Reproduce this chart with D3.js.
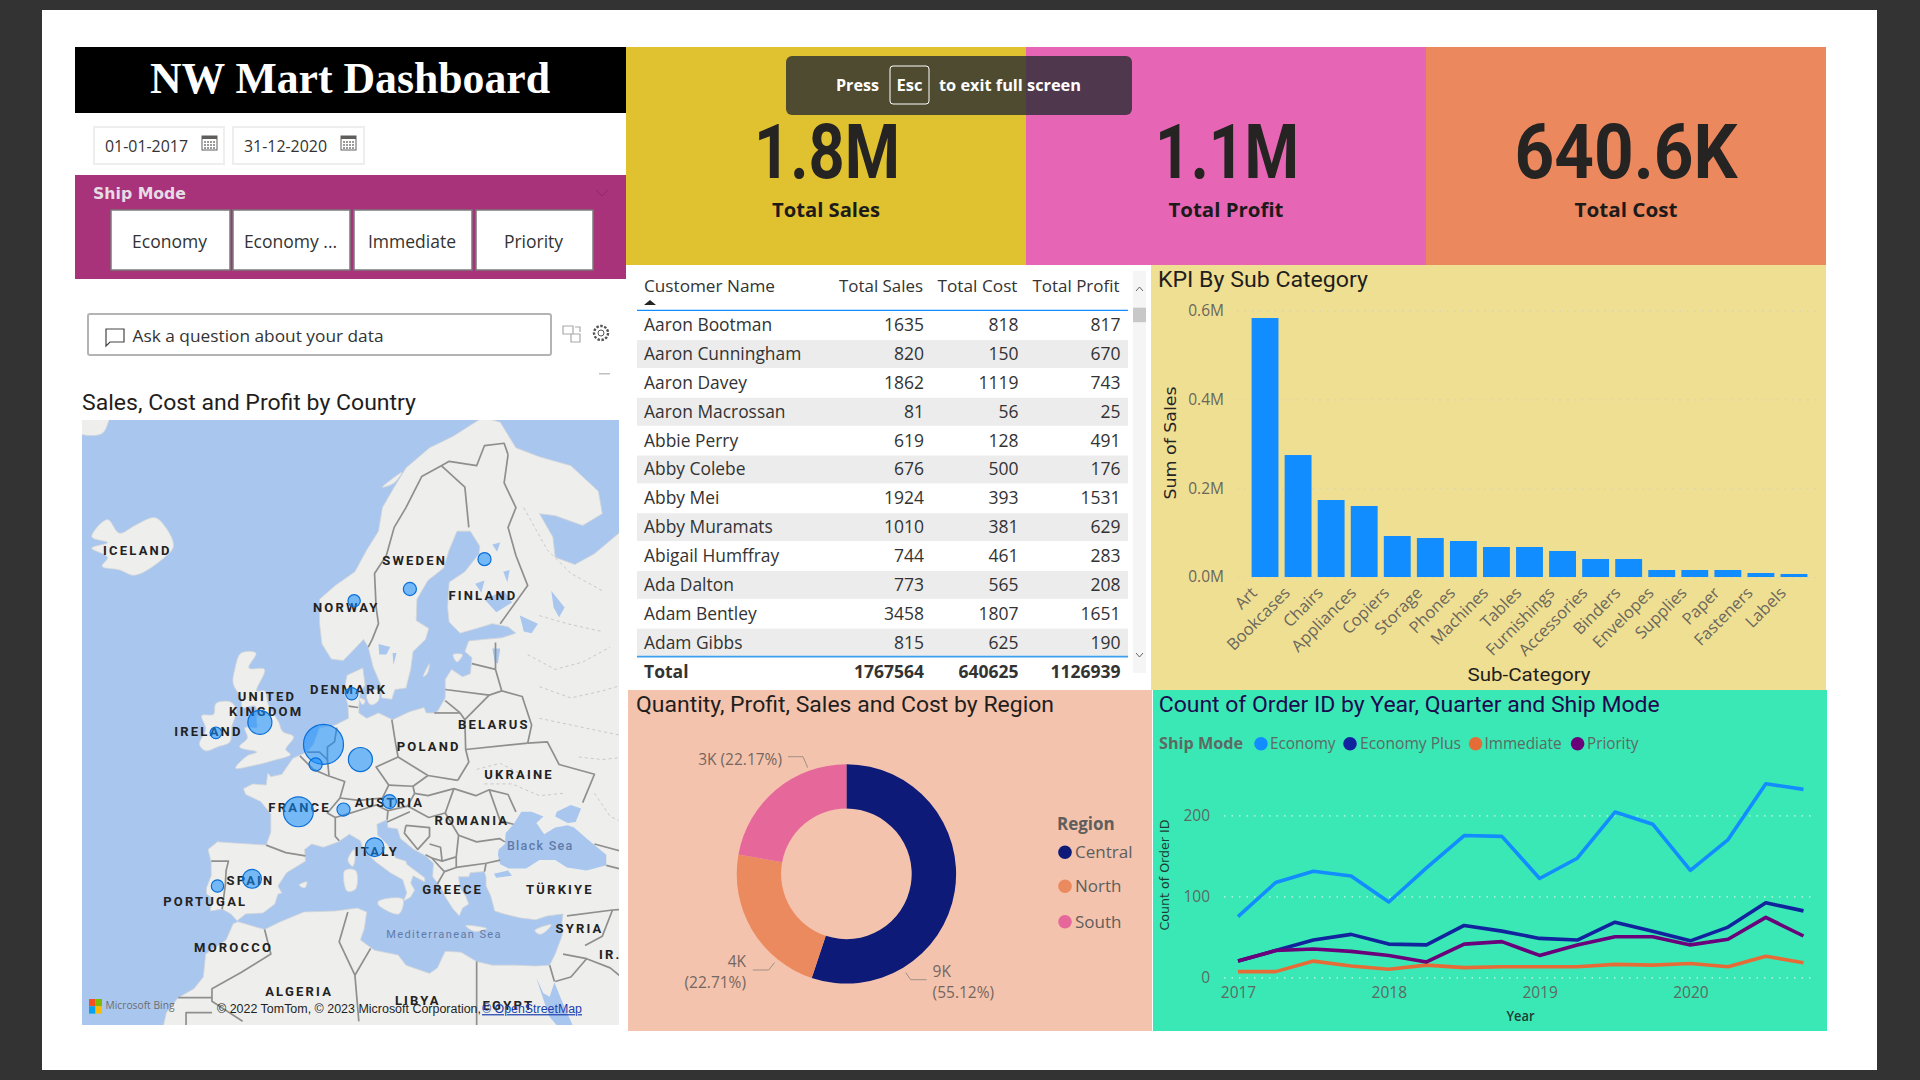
<!DOCTYPE html>
<html><head><meta charset="utf-8"><title>NW Mart Dashboard</title>
<script src="https://cdn.jsdelivr.net/npm/d3@7/dist/d3.min.js"></script>
<style>html,body{margin:0;padding:0;background:#333;overflow:hidden}svg{display:block}</style>
</head><body><svg id="c" width="1920" height="1080"></svg>
<script>
// ---------- data ----------
const shipModes = ["Economy","Economy ...","Immediate","Priority"];
const kpiLabels = ["Total Sales","Total Profit","Total Cost"];
const kpiValues = [1767564,1126939,640625];
const customers = ["Aaron Bootman","Aaron Cunningham","Aaron Davey","Aaron Macrossan","Abbie Perry","Abby Colebe","Abby Mei","Abby Muramats","Abigail Humffray","Ada Dalton","Adam Bentley","Adam Gibbs"];
const custSales = [1635,820,1862,81,619,676,1924,1010,744,773,3458,815];
const custCost = [818,150,1119,56,128,500,393,381,461,565,1807,625];
const custProfit = [817,670,743,25,491,176,1531,629,283,208,1651,190];
const tableTotals = [1767564,640625,1126939];
const subCategories = ["Art","Bookcases","Chairs","Appliances","Copiers","Storage","Phones","Machines","Tables","Furnishings","Accessories","Binders","Envelopes","Supplies","Paper","Fasteners","Labels"];
const subSales = [583500,274800,173500,160000,92400,87900,81100,67600,67600,58600,40500,40500,15800,15800,15800,9000,6800];
const regions = ["Central","North","South"];
const regionValues = [9000,3708,3620];
const regionShare = ["55.12%","22.71%","22.17%"];
const regionShort = ["9K","4K","3K"];
const quarters = [2017,2017.25,2017.5,2017.75,2018,2018.25,2018.5,2018.75,2019,2019.25,2019.5,2019.75,2020,2020.25,2020.5,2020.75];
const ordersEconomy = [75,117,131,125,93,135,175,174,122,147,204,189,132,170,239,232];
const ordersEconomyPlus = [20,33,46,53,41,40,64,57,48,46,68,57,45,62,92,82];
const ordersImmediate = [7,7,20,14,10,15,12,13,13,13,16,15,17,13,26,18];
const ordersPriority = [20,33,35,32,27,19,41,44,27,40,50,50,40,47,74,51];
const countries = ["Netherlands","Belgium","United Kingdom","Germany","France","Ireland","Denmark","Norway","Sweden","Finland","Austria","Switzerland","Italy","Spain","Portugal"];
const countryLon = [5.5,4.5,-2.6,10.2,2.3,-8.2,9.1,9.4,16.5,26,13.9,8.05,12,-3.6,-8];
const countryLat = [52,50.4,53.7,50.8,46.4,52.9,55.8,61.9,62.6,64.3,47.3,46.6,43.2,40.2,39.5];
const countrySales = [485000,52000,175000,175000,270000,41000,46000,46000,52000,52000,58000,52000,108000,108000,46000];
// basemap outlines, [lon,lat]
const mainland = [[25.8,71.1],[22,70.3],[19,69.8],[16,68.9],[14.5,68],[13,67],[12.5,65.8],[11,64.8],[9.5,63.6],[7,62.8],[5,62],[5,60.5],[5.3,59.2],[6.5,58.2],[8,58.1],[9.5,58.9],[10.6,59.5],[11.2,59],[11.8,57.7],[12.8,56.4],[12.9,55.5],[14.2,55.4],[14.6,56.1],[16,56.2],[16.6,57.5],[16.9,58.7],[18.5,59.5],[18.9,60.2],[17.3,60.7],[17.4,62],[18.8,63.1],[20.8,63.8],[21.5,64.8],[22.5,65.8],[24.2,65.8],[25.4,65],[25.3,64.6],[23.5,63.6],[21.5,63],[21.3,61.5],[21.5,60.6],[22.9,59.9],[25,60.2],[27,60.5],[29,60.3],[30,59.9],[28.2,59.6],[26,59.5],[24,59.4],[23.5,58.7],[24.4,58.3],[24.2,57.2],[23.2,57],[21.8,57.5],[21,56.8],[21,55.5],[20,54.5],[19.5,54.4],[18.6,54.4],[18.3,54.8],[16.5,54.5],[14.3,53.9],[12.5,54.4],[11,54],[10,54.4],[10,54.9],[10.2,56],[10.8,56.4],[10.5,57.6],[8.5,57.1],[8.1,56],[8.6,55],[8.7,54],[7,53.5],[5,53.3],[4.2,52],[3.4,51.4],[1.6,50.9],[0.2,49.6],[-1.2,49.4],[-1.6,49.7],[-1.8,48.7],[-3.5,48.8],[-4.7,48.4],[-4.4,47.9],[-2.5,47.3],[-1.2,46.2],[-1.2,44.6],[-1.8,43.4],[-3.8,43.5],[-6,43.6],[-8,43.7],[-9.2,43],[-8.8,41.8],[-8.8,40.5],[-9.4,39.3],[-9.4,38.7],[-8.8,38.4],[-8.9,37],[-7.4,37.2],[-6.3,36.7],[-5.5,36],[-4.4,36.7],[-2.2,36.8],[-0.7,37.7],[-0.3,38.7],[0.2,38.8],[-0.3,39.5],[0.8,40.8],[3.2,41.9],[3.1,43],[4,43.5],[5.5,43.2],[7.4,43.7],[8.8,44.4],[10.2,43.8],[10.6,42.9],[12.2,41.8],[14,40.8],[15.6,40.1],[16.1,38.8],[15.7,38],[16.6,38.4],[17.1,39.1],[16.6,39.8],[16.9,40.5],[18.4,39.9],[18.4,40.3],[16.1,41.6],[16,41.9],[14.7,42.2],[13.6,43.5],[12.4,44.3],[12.3,45.3],[13.6,45.7],[13.7,45],[14.9,44.9],[15.3,44],[17,43],[18.5,42.4],[19.5,41.7],[19.4,40.4],[20.5,39.3],[21.1,38.3],[22,37.2],[22.8,36.5],[23.2,37.3],[24,37.7],[23.6,38.5],[22.9,39.3],[22.7,40.4],[24,40.4],[24.2,40.8],[26,40.9],[26.2,40.3],[26.2,39.5],[26.8,38.5],[27.3,37],[28.5,36.7],[30.5,36.3],[32.5,36.1],[34,36.5],[36,36.7],[35.8,35.5],[35.9,34.5],[35,32.5],[34.3,31.3],[32.5,31.2],[30,31.3],[27,31.3],[25,31.7],[23,32.7],[21,32.8],[20,31],[19,30.4],[16,31.3],[15,32.4],[12,32.9],[10.2,34],[10.7,35.2],[11,36.9],[9.8,37.3],[7,37],[3,36.9],[0,35.9],[-2,35.1],[-5.4,35.9],[-6,35.7],[-6.9,34],[-9.5,32.5],[-9.8,30],[-11,28.7],[-13,27.7],[-14.5,26],[-15,24],[46,24],[46,66.5],[44,68.3],[43.3,66.4],[44,66],[40,64.6],[37.5,64],[35,64.4],[34.7,65.5],[33,66.7],[35,66.6],[38.5,66.1],[41,66.7],[40.5,67.8],[37,69],[33,69.4],[30,69.8],[28,70.9]];
const islands = [
 [[-5.7,50.1],[-3.5,50.3],[-1,50.7],[1.3,51.2],[0.7,51.6],[1.7,52.6],[0.3,53],[-0.2,53.7],[-1.5,55],[-2,56],[-3,56],[-2,57.5],[-4,57.6],[-3.1,58.6],[-5,58.6],[-5.8,57.5],[-6,56.5],[-5,55.5],[-4.8,54.8],[-3.2,54.9],[-3,53.7],[-3,53.3],[-4.5,53.3],[-4.2,52.5],[-5.2,51.8],[-3,51.4],[-4.2,51.1]],
 [[-6.2,53.3],[-5.6,54.6],[-6.3,55.2],[-8.2,55.1],[-8.5,54.3],[-10,54.2],[-9.5,53.2],[-10.3,52],[-9.5,51.5],[-8,51.8],[-6.4,52.2]],
 [[-24,65.5],[-22,66.4],[-20.5,65.7],[-18.5,66.1],[-16,66.5],[-14.6,66],[-13.6,65],[-15,64.3],[-18.5,63.4],[-20.5,63.7],[-22.7,63.9],[-22,64.4],[-24,64.9],[-22,65.2]],
 [[9.4,43],[9.5,42],[9.2,41.4],[8.6,42]],[[8.2,41],[9.6,41],[9.6,39.2],[8.5,39]],[[12.5,38],[15.6,38.2],[15.1,36.7],[12.5,37.6]],
 [[23.6,35.5],[26.3,35.2],[24.7,34.9]],[[32.4,35],[34.5,35.6],[33.8,34.9],[33,34.6]],[[2.4,39.6],[3.4,39.9],[3.1,39.3]],
 [[18.2,57],[19,57.9],[18.7,57.2]],[[11,55.7],[12.5,56.1],[12.5,55.3],[11.5,55]],[[10,55.5],[10.8,55.3],[10.5,55]],[[22,58.5],[23.2,58.5],[22.5,58]],
 [[13,68],[15.5,68.7],[14.5,68.2]],[[-26,71.5],[-21.8,71.5],[-22,70.8],[-22.8,70.4],[-26,70.5]]
];
const inlandWaters = [
 [[27.7,42.5],[28,41.6],[29.1,41.2],[31.3,41.2],[33,42],[35,42],[36.5,41.3],[39,41],[41.5,41.5],[41.5,42.5],[39,44],[37.4,45],[36.6,45.2],[35,45],[33.6,44.4],[32.6,45.4],[33.5,46],[32,46.4],[30.7,46.4],[29.7,45.3],[28.7,44.5],[28.6,43.5],[27.8,43]],
 [[35,46],[36.6,45.4],[37.6,45.5],[38.3,46.7],[37,47],[35.2,46.4]],
 [[27.2,40.7],[29,41],[29.5,40.5],[27.5,40.3]],
 [[32.6,29.9],[33.5,27.5],[34.3,25.5],[35.7,24],[37.5,24],[36,27],[34.9,29.4],[34.3,27.8],[33.5,28.2]],
 [[30.5,61],[32.8,60.5],[32,59.9],[31,60]],[[34.5,62.5],[36.2,61.5],[35.5,60.9],[34.8,61.5]],[[12.5,59.2],[14,59],[13.5,58.5],[12.6,58.5]],[[27,58.9],[28,58.9],[27.7,57.9],[27.3,58]],[[26,62],[28.5,62.5],[29.5,61.8],[27.5,61.2]],
 [[14.3,58.6],[14.8,58.6],[14.4,57.8]],[[27,65.1],[28,65.2],[27.6,64.7]],[[24.8,62.9],[26,63.1],[25.6,62.4]],[[28.4,63.6],[29.2,63.7],[28.9,63]]
];
const borders = [
 [[-1.8,43.4],[0.7,42.7],[3.2,42.4]],[[-8.8,41.9],[-6.6,41.9],[-6.9,41],[-7,39.6],[-7.4,37.2]],
 [[2.5,51.1],[4.2,50],[6,49.5],[8.2,49],[7.6,47.6],[6,46.3],[7,45.9],[7,44.2],[7.5,43.8]],
 [[3.4,51.4],[5,51.4],[6,50.8]],[[7.2,53.3],[6.9,52.2],[6,51.8],[6,50.8],[6.2,49.5]],[[8.7,54.9],[9.9,54.8]],
 [[14.2,53.9],[14.7,52],[15,51],[12.2,50.2],[13.8,48.7],[13,47.6],[10,47.4],[7.6,47.6]],
 [[7,45.9],[8.5,46.2],[10.4,46.6],[12.2,47],[13.7,46.5],[13.6,45.7]],[[13.8,48.7],[16.9,48.6],[17.1,48],[16.2,46.9],[13.7,46.5]],
 [[15,51],[18.8,49.5],[22.6,49.1]],[[16.9,48.6],[18.8,49.5]],[[17.1,48],[18.8,47.8],[22.1,48.4]],[[22.1,48.4],[21,46.3],[18.9,45.9],[16.2,46.9]],
 [[13.6,45.5],[16.5,46.4]],[[16,45.2],[19,45],[19,44.2],[17.5,43],[15.8,44.5],[16,45.2]],
 [[21,46.3],[22.7,44.3],[22.4,42.3],[20.6,41.9],[19.3,42.2],[18.5,42.5]],[[19,43.5],[20.4,43.2],[20.6,41.9]],[[19.3,42.2],[20.5,41.2],[20.9,40.9]],[[22.7,44.3],[25,43.7],[27.9,44],[28.6,43.7]],
 [[22.1,48.4],[24.9,47.8],[26.6,48.3],[28,45.6],[29.7,45.3]],[[26.6,48.3],[29,47.9],[30,46.4]],
 [[22.4,41.3],[26.2,41.7],[28,42]],[[20,39.7],[20.9,40.9],[22.4,41.3],[22.4,42.3]],[[26.2,41.7],[26,40.9]],
 [[22.6,49.1],[24,50.6],[23.6,51.6],[23.5,53.9],[22.9,54.4]],[[19.6,54.4],[22.9,54.4]],[[21,55.3],[22.9,54.4]],[[23.5,53.9],[26.6,55.7]],
 [[21,56.1],[26.6,55.7],[28.2,56]],[[24.4,57.9],[27.4,57.5]],[[27.4,59.3],[27.4,57.5],[28.2,56],[30.8,55.6],[32,53.5],[31.5,52.1]],
 [[23.6,51.6],[31.5,52.1]],[[31.5,52.1],[34,52.2],[35.5,50.4],[40,49.6],[38.5,47.2]],
 [[36.5,36.5],[42.3,37.1],[44.8,37.2]],[[42.3,37.1],[41,34.4],[38.8,33.4]],[[36,32.5],[39,32],[37,30],[35,29.5]],
 [[25,31.7],[25,22]],[[34.3,31.3],[34.9,29.5]],[[11.5,33.1],[9.5,30.2],[10,25]],[[8.6,36.9],[7.5,33.8],[9.5,30.2]],
 [[-2,35.1],[-1.2,32.5],[-5,30.5],[-8.7,28.7],[-8.7,27.3],[-4.8,25]],[[-8.7,27.7],[-13,27.7]],[[-8.7,26],[-12,26],[-12,24]],
 [[39,32],[42,31],[44.8,29]],[[44.8,37.2],[45.5,34]],[[40,43.5],[45,42.5]],[[41.5,41.5],[43.5,41.1],[44.8,39.7]],
 [[11.2,59],[11.7,59.5],[12.5,60.5],[12.2,61.5],[12,63.5],[13.5,64.5],[14.5,66],[16,67],[18,68.5],[20.5,69]],
 [[20.5,69],[23.5,68],[24,66]],[[20.5,69],[21.5,69.2],[25,69],[26,69.9],[28.5,70],[29,69.5]],[[29,69.5],[28.5,68.2],[30,67],[29,66],[30,64.5],[31.5,62.8],[28,60.5]]
];
const dashedBorders = [
 [[31,67],[34,64.8],[37,63.5],[41,62.5]],[[33,61],[36.5,60.5],[41,60]],[[31.5,58.5],[35,57.5],[38.5,58],[42,59]],[[33,56.3],[37,55.5],[41,56],[44,56.5]],
 [[33,54],[37,53.5],[41,53],[45,52.5]],[[38,51],[41,50.8],[44,51]],[[25,50],[28,50.5],[31,49.5],[34,49.5]],[[26,48.8],[29.5,48.8],[33,47.8],[36,48]],[[40,48],[42,46],[45,45]]
];
const placeNames = ["ICELAND","SWEDEN","FINLAND","NORWAY","UNITED","KINGDOM","DENMARK","IRELAND","BELARUS","POLAND","UKRAINE","FRANCE","AUSTRIA","ROMANIA","ITALY","SPAIN","GREECE","TÜRKIYE","PORTUGAL","SYRIA","MOROCCO","IR.","ALGERIA","LIBYA","EGYPT"];
const placeLon = [-18.2,17.1,25.8,8.4,-1.7,-1.8,8.7,-9.15,27.2,18.9,30.4,2.45,13.9,24.4,12.3,-3.8,21.95,35.6,-9.55,38.1,-5.95,42,2.4,17.5,29.05];
const placeLat = [64.76,64.2,62.2,61.5,55.6,54.5,56.1,53,53.5,51.8,49.6,46.8,47.2,45.6,42.8,40,39.1,39.1,38,35.2,33.2,32.4,28.4,27.4,26.8];

// ---------- helpers ----------
const svg = d3.select("#c");
const DIN = "Roboto, sans-serif", UI = "'Open Sans', sans-serif";
function rect(x,y,w,h,f,p=svg){return p.append("rect").attr("x",x).attr("y",y).attr("width",w).attr("height",h).attr("fill",f);}
function text(s,x,y,o={},p=svg){const t=p.append("text").attr("x",x).attr("y",y).text(s)
  .attr("font-family",o.font||UI).attr("font-size",o.size||16).attr("font-weight",o.weight||400)
  .attr("fill",o.fill||"#252423").attr("text-anchor",o.anchor||"start").attr("dominant-baseline",o.base||"auto");
  if(o.ls)t.attr("letter-spacing",o.ls);
  if(o.fit)t.attr("textLength",o.fit).attr("lengthAdjust","spacingAndGlyphs");
  return t;}
const fmtKpi = v => v>=1e6 ? d3.format(".1f")(v/1e6)+"M" : d3.format(".1f")(v/1e3)+"K";

// page
rect(0,0,1920,1080,"#333333");
rect(42,10,1835,1060,"#ffffff");

// header
rect(75,47,551,66,"#000");
text("NW Mart Dashboard",350,93,{font:"'Liberation Serif',serif",size:44,weight:700,fill:"#fff",anchor:"middle",fit:400});

// date boxes
function calendar(x,y){const g=svg.append("g").attr("transform",`translate(${x},${y})`);
  g.append("rect").attr("width",15).attr("height",14).attr("fill","#fff").attr("stroke","#605e5c");
  g.append("rect").attr("width",15).attr("height",3).attr("fill","#605e5c");
  for(let r=0;r<3;r++)for(let c=0;c<4;c++)g.append("rect").attr("x",2+c*3).attr("y",5+r*3).attr("width",2).attr("height",2).attr("fill","#9a9a9a");}
[["01-01-2017",94],["31-12-2020",233]].forEach(([d,x])=>{
  rect(x,127,x==94?130:131,37,"#fff").attr("stroke","#eeeeee").attr("stroke-width",2);
  text(d,x+11,148,{size:15.5,base:"middle",fill:"#333",fit:83});
  calendar(x+108,136);
});

// ship mode slicer
rect(75,175,551,104,"#a8337a");
text("Ship Mode",93,194,{font:"'DejaVu Sans',sans-serif",size:15,weight:700,fill:"#e6dce6",base:"middle",fit:93});
svg.append("path").attr("d","M596 190l6 6 6-6").attr("fill","none").attr("stroke","#8f2a68");
const btnX=[111,233,354,476], btnW=[119,117,118,117];
shipModes.forEach((m,i)=>{
  rect(btnX[i],210,btnW[i],60,"#fff").attr("stroke","#7a7a7a").attr("stroke-width",1.5);
  text(m,btnX[i]+btnW[i]/2-1,243,{size:17.5,anchor:"middle",base:"middle",fill:"#333"});
});

// Q&A
rect(88,314,463,41,"#fff").attr("stroke","#b4b4b4").attr("stroke-width",2).attr("rx",2);
svg.append("path").attr("d","M106 329h18v13h-14l-4 4z").attr("fill","none").attr("stroke","#444").attr("stroke-width",1.2);
text("Ask a question about your data",132.5,337,{size:17,base:"middle",fill:"#333",fit:251});
svg.append("path").attr("d","M563 326h10v8h-10zM571 334h9v8h-9zM575 327h5v5").attr("fill","none").attr("stroke","#a8a8a8").attr("stroke-width",1.2);
svg.append("circle").attr("cx",601).attr("cy",333).attr("r",7).attr("fill","none").attr("stroke","#555").attr("stroke-width",2.4).attr("stroke-dasharray","2.5 1.5");
svg.append("circle").attr("cx",601).attr("cy",333).attr("r",3).attr("fill","none").attr("stroke","#555");
rect(599,373,11,1.5,"#c0c0c0");

// KPI cards
const kpiX=[626,1026,1426], kpiFill=["#e0c230","#e666b5","#ec885d"], kpiFitV=[146,144,223], kpiFitL=[108,115,103], kpiOff=[201,201,200];
kpiLabels.forEach((l,i)=>{
  rect(kpiX[i],47,400,218,kpiFill[i]);
  text(fmtKpi(kpiValues[i]),kpiX[i]+kpiOff[i],178,{font:DIN,size:76,weight:700,fill:"#252423",anchor:"middle",fit:kpiFitV[i]});
  text(l,kpiX[i]+200,211.5,{size:20,weight:700,anchor:"middle",base:"middle",fill:"#1c1b1a",fit:kpiFitL[i]});
});

// table
const colR=[924,1018.5,1120.5], headers=["Total Sales","Total Cost","Total Profit"];
const rowY=d3.scaleLinear().domain([0,12]).range([310.3,656.5]);
text("Customer Name",644,292,{size:17,fill:"#333",fit:131});
headers.forEach((h,i)=>text(h,colR[i]-1,292,{size:17,anchor:"end",fill:"#333",fit:[84,80,87][i]}));
svg.append("path").attr("d","M644 305l6-5 6 5z").attr("fill","#252423");
customers.forEach((c,i)=>{
  const y0=rowY(i), y1=rowY(i+1), ym=(y0+y1)/2;
  if(i%2==1) rect(637,y0+1,491,y1-y0-1,"#ececec");
  text(c,644,ym+1.8,{size:17.4,base:"middle",fill:"#333"});
  [custSales[i],custCost[i],custProfit[i]].forEach((v,j)=>text(v,colR[j],ym+1.8,{size:17.5,anchor:"end",base:"middle",fill:"#333"}));
});
svg.append("line").attr("x1",637).attr("x2",1128).attr("y1",310.3).attr("y2",310.3).attr("stroke","#118dff").attr("stroke-width",1.3);
svg.append("line").attr("x1",637).attr("x2",1128).attr("y1",656.6).attr("y2",656.6).attr("stroke","#3a9ff0").attr("stroke-width",1.6);
text("Total",644,673.3,{size:17.5,weight:700,base:"middle",fill:"#333"});
tableTotals.forEach((v,j)=>text(v,colR[j],673.3,{size:17.5,weight:700,anchor:"end",base:"middle",fill:"#333"}));
rect(1133,271,13,402,"#f5f5f5");
rect(1133,307.7,13,14.5,"#c8c8c8");
svg.append("path").attr("d","M1136 291l3.5-4 3.5 4M1136 653l3.5 4 3.5-4").attr("fill","none").attr("stroke","#666");

// map
const defs=svg.append("defs");
defs.append("clipPath").attr("id","mapClip").append("rect").attr("x",82).attr("y",420).attr("width",537).attr("height",605);
text("Sales, Cost and Profit by Country",82,410,{font:DIN,size:22.5,weight:400,fill:"#1f1e1d",fit:334});
const map=svg.append("g").attr("clip-path","url(#mapClip)");
rect(82,420,537,605,"#a9c6ee",map);
const proj=d3.geoMercator().scale(450).translate([280.3,1224.2]);
const poly=d3.line().x(d=>proj(d)[0]).y(d=>proj(d)[1]);
const ringC=d3.line().x(d=>proj(d)[0]).y(d=>proj(d)[1]).curve(d3.curveCatmullRomClosed.alpha(.5));
map.append("path").attr("d",poly(mainland)+"Z").attr("fill","#eeeeec").attr("stroke","#d3d6d8").attr("stroke-width",.8);
map.selectAll(".isl").data(islands).join("path").attr("d",d=>ringC(d)).attr("fill","#eeeeec").attr("stroke","#d3d6d8").attr("stroke-width",.8);
map.selectAll(".wat").data(inlandWaters).join("path").attr("d",d=>poly(d)+"Z").attr("fill","#a9c6ee");
map.selectAll(".das").data(dashedBorders).join("path").attr("d",d=>poly(d)).attr("fill","none").attr("stroke","#c9c9c7").attr("stroke-width",1).attr("stroke-dasharray","3 3");
map.selectAll(".bor").data(borders).join("path").attr("d",d=>poly(d))
  .attr("fill","none").attr("stroke","#8f8f8f").attr("stroke-width",1.7).attr("stroke-linejoin","round");
placeNames.forEach((n,i)=>{const p=proj([placeLon[i],placeLat[i]]);
  text(n,p[0],p[1]+1,{font:"Roboto,sans-serif",size:13,weight:700,fill:"#222",anchor:"middle",base:"middle",ls:2.2},map);});
let p0=proj([33.1,43.3]); text("Black Sea",p0[0],p0[1]+1,{font:"Roboto,sans-serif",size:12.5,weight:500,fill:"#5f7ba8",anchor:"middle",base:"middle",ls:1.3},map);
p0=proj([20.85,34.6]); text("Mediterranean Sea",p0[0],p0[1]+1,{font:"Roboto,sans-serif",size:11,fill:"#5f7ba8",anchor:"middle",base:"middle",ls:1.4},map);
const rScale=d3.scaleSqrt().domain([0,d3.max(countrySales)]).range([0,20]);
map.selectAll(".bub").data(countries).join("circle")
  .attr("cx",(d,i)=>proj([countryLon[i],countryLat[i]])[0]).attr("cy",(d,i)=>proj([countryLon[i],countryLat[i]])[1])
  .attr("r",(d,i)=>rScale(countrySales[i])).attr("fill","#118dff").attr("fill-opacity",.55).attr("stroke","#0a6fd8").attr("stroke-width",1.2);
[["#f25022",0,0],["#7fba00",1,0],["#00a4ef",0,1],["#ffb900",1,1]].forEach(([f,a,b])=>rect(89+a*6.5,999+b*7.3,6.5,7.3,f,map));
text("Microsoft Bing",105.5,1006,{font:"'Open Sans',sans-serif",size:10.5,fill:"#6e6e6e",base:"middle",fit:69},map);
text("© 2022 TomTom, © 2023 Microsoft Corporation, ",217,1010,{font:"'Liberation Sans',sans-serif",size:12,fill:"#1f1f1f",base:"middle",fit:264},map);
text("© OpenStreetMap",482,1010,{font:"'Liberation Sans',sans-serif",size:12,fill:"#1b3fae",base:"middle",fit:100},map).attr("text-decoration","underline");

// KPI by sub category
rect(1151,265,675,425,"#efdf93");
text("KPI By Sub Category",1158,287,{font:DIN,size:22,weight:400,fill:"#1f1e1d",fit:210});
const bx=d3.scaleBand().domain(subCategories).range([1248.5,1810.5]).paddingInner(.187).paddingOuter(.0935);
const by=d3.scaleLinear().domain([0,600000]).range([577,310.7]);
const gy=svg.append("g").attr("transform","translate(1237,0)").call(d3.axisLeft(by).tickValues([0,200000,400000,600000]).tickSize(-582).tickFormat(d=>d3.format(".1f")(d/1e6)+"M"));
gy.select(".domain").remove();
gy.selectAll("line").attr("stroke","#d8d3b5").attr("stroke-dasharray","1.5 6").attr("stroke-width",1.2);
gy.selectAll("text").attr("font-family",UI).attr("font-size",15.5).attr("fill","#6b675c").attr("x",-13);
svg.selectAll(".bar").data(subCategories).join("rect").attr("x",d=>bx(d)).attr("width",bx.bandwidth())
  .attr("y",(d,i)=>by(subSales[i])).attr("height",(d,i)=>by(0)-by(subSales[i])).attr("fill","#118dff");
const gx=svg.append("g").attr("transform","translate(0,577)").call(d3.axisBottom(bx).tickSize(0));
gx.select(".domain").remove();
gx.selectAll("text").attr("font-family",UI).attr("font-size",16.5).attr("fill","#6b675c").attr("text-anchor","end").attr("dy",0).attr("y",0)
  .attr("transform","translate(-7,17) rotate(-45)");
text("Sub-Category",1529,681,{font:DIN,size:18.5,weight:400,fill:"#1f1e1d",anchor:"middle",fit:123});
text("Sum of Sales",0,0,{font:"'DejaVu Sans',sans-serif",size:16.5,weight:400,anchor:"middle",fit:113}).attr("transform","translate(1176,443) rotate(-90)");

// donut
rect(628,690,524,341,"#f4c3ad");
text("Quantity, Profit, Sales and Cost by Region",636,712,{font:DIN,size:22,weight:400,fill:"#1f1e1d",fit:418});
const regionFill=["#0d1a78","#ec8a5f","#e6689b"];
const pie=d3.pie().sort(null)(regionValues);
const arc=d3.arc().innerRadius(65.3).outerRadius(109.7);
const dg=svg.append("g").attr("transform","translate(846.4,873.9)");
dg.selectAll("path").data(pie).join("path").attr("d",arc).attr("fill",(d,i)=>regionFill[i]);
const labelColor="#75675f";
function radial(a,r){const t=a*Math.PI/180;return [846.4+r*Math.sin(t),873.9-r*Math.cos(t)];}
const leaderLine=d3.line();
[[radial(149,115),[910.7,979.7],[926.6,979.7]],[radial(219,114),[768.7,970],[752.8,970]],[radial(340,113),[803,756.7],[788,756.7]]].forEach(pts=>
  svg.append("path").attr("d",leaderLine(pts)).attr("fill","none").attr("stroke","#a08f85").attr("stroke-width",1));
text(`${regionShort[2]} (${regionShare[2]})`,782,761,{size:15.5,anchor:"end",base:"middle",fill:labelColor});
text(regionShort[1],746,962.5,{size:15.5,anchor:"end",base:"middle",fill:labelColor});
text(`(${regionShare[1]})`,746,983.5,{size:15.5,anchor:"end",base:"middle",fill:labelColor});
text(regionShort[0],932.6,972.5,{size:15.5,base:"middle",fill:labelColor});
text(`(${regionShare[0]})`,932.6,993.5,{size:15.5,base:"middle",fill:labelColor});
text("Region",1057,825.5,{size:17,weight:700,base:"middle",fill:"#605e5c"});
const legY=[852.3,886.3,921.7];
regions.forEach((r,i)=>{svg.append("circle").attr("cx",1065).attr("cy",legY[i]).attr("r",6.8).attr("fill",regionFill[i]);
  text(r,1075,legY[i]+1.5,{size:17,base:"middle",fill:"#605e5c"});});

// line chart
rect(1153,690,674,341,"#3ae8b6");
text("Count of Order ID by Year, Quarter and Ship Mode",1158.7,712,{font:DIN,size:22,weight:400,fill:"#1d0a4e",fit:501});
const lx=d3.scaleLinear().domain([2017,2020.75]).range([1238,1803.5]);
const ly=d3.scaleLinear().domain([0,200]).range([977.3,815.3]);
const gly=svg.append("g").attr("transform","translate(1224,0)").call(d3.axisLeft(ly).tickValues([0,100,200]).tickSize(-588));
gly.select(".domain").remove();
gly.selectAll("line").attr("stroke","#c9f5e5").attr("stroke-dasharray","1.5 6").attr("stroke-width",1.2);
gly.selectAll("text").attr("font-family",UI).attr("font-size",15.5).attr("fill","#5d6a62").attr("x",-14);
const glx=svg.append("g").attr("transform","translate(0,984)").call(d3.axisBottom(lx).tickValues([2017,2018,2019,2020]).tickFormat(d3.format("d")).tickSize(0));
glx.select(".domain").remove();
glx.selectAll("text").attr("font-family",UI).attr("font-size",15.5).attr("fill","#5d6a62").attr("y",3);
const modeNames=["Economy","Economy Plus","Immediate","Priority"];
const modeSeries=[ordersEconomy,ordersEconomyPlus,ordersImmediate,ordersPriority];
const modeFill=["#118dff","#12239e","#e66c37","#6b007b"];
const path=d3.line().x((d,i)=>lx(quarters[i])).y(d=>ly(d));
modeSeries.forEach((s,i)=>svg.append("path").attr("d",path(s)).attr("fill","none").attr("stroke",modeFill[i]).attr("stroke-width",3.6).attr("stroke-linejoin","round"));
text("Ship Mode",1159,744.7,{size:16,weight:700,base:"middle",fill:"#5d6a62",fit:84});
const legDot=[1261,1350,1475.6,1577.6], legTx=[1270,1360,1484.5,1587], legFit=[65.5,101,77,51.5];
modeNames.forEach((m,i)=>{svg.append("circle").attr("cx",legDot[i]).attr("cy",743.7).attr("r",6.8).attr("fill",modeFill[i]);
  text(m,legTx[i],744.7,{size:16,base:"middle",fill:"#5d6a62",fit:legFit[i]});});
text("Year",1520.5,1017,{size:14,weight:600,anchor:"middle",base:"middle",fill:"#1f3b33",fit:28});
text("Count of Order ID",0,0,{font:"'DejaVu Sans',sans-serif",size:12.5,weight:400,anchor:"middle",base:"middle",fill:"#1f3b33",fit:111}).attr("transform","translate(1165.7,875) rotate(-90)");

// full screen notice
rect(786,56,346,59,"rgba(38,43,50,0.79)").attr("rx",6);
text("Press",836,86.3,{size:16,weight:700,fill:"#fff",base:"middle",fit:43});
rect(890,66,39,38,"none").attr("stroke","#fff").attr("stroke-width",1).attr("rx",3);
text("Esc",909.5,86.3,{size:16,weight:700,fill:"#fff",base:"middle",anchor:"middle",fit:26});
text("to exit full screen",939,86.3,{size:16,weight:700,fill:"#fff",base:"middle",fit:142});
</script></body></html>
